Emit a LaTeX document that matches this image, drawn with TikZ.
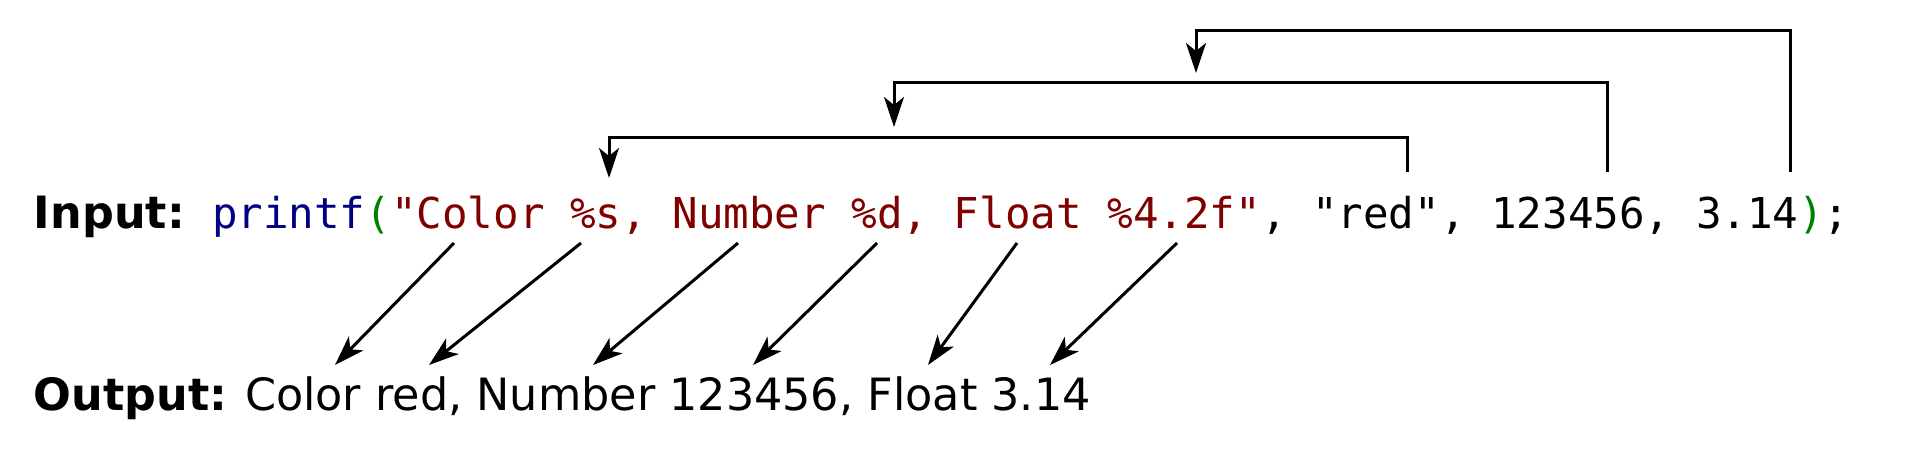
\documentclass[tikz,border=0pt]{standalone}
\usepackage{fontspec}
\setmainfont{DejaVu Sans}
\newfontfamily\codefont{DejaVu Sans Mono}
\usetikzlibrary{arrows.meta}
\definecolor{fnblue}{RGB}{0,0,128}
\definecolor{pgreen}{RGB}{0,128,0}
\definecolor{strred}{RGB}{128,0,0}
\begin{document}
\begin{tikzpicture}[x=1pt,y=-1pt,
  txt/.style={inner sep=0pt, outer sep=0pt, anchor=base west},
  lbl/.style={txt, font=\fontsize{44.5}{50}\selectfont\bfseries},
  codetxt/.style={txt, font=\fontsize{42.5}{50}\selectfont\codefont},
  outtxt/.style={txt, font=\fontsize{44.5}{50}\selectfont},
  conn/.style={line width=3pt, -{Stealth[length=30pt,width=20pt,inset=8pt]}}]
\path[use as bounding box] (0,0) rectangle (1920,457);

\node[lbl] (inlabel) at (34,229) {Input:};
\node[codetxt] (code) at (212,229) {{\color{fnblue}printf}{\color{pgreen}(}{\color{strred}"Color \%s, Number \%d, Float \%4.2f"}, "red", 123456, 3.14{\color{pgreen})};};
\node[lbl] (outlabel) at (34,410) {Output:};
\node[outtxt] (outtext) at (245,410) {Color red, Number 123456, Float 3.14};

% down arrows from specifiers to output
\coordinate (s1) at (454,243); \coordinate (e1) at (335,365);
\coordinate (s2) at (581,243); \coordinate (e2) at (429,365);
\coordinate (s3) at (738,243); \coordinate (e3) at (593,365);
\coordinate (s4) at (877,243); \coordinate (e4) at (753,365);
\coordinate (s5) at (1017,243); \coordinate (e5) at (928,365);
\coordinate (s6) at (1177,243); \coordinate (e6) at (1050,365);
\foreach \i in {1,...,6} \draw[conn] (s\i) -- (e\i);

% brackets from arguments to specifiers
\coordinate (r1) at (1407,172); \coordinate (c1) at (609,137.5); \coordinate (t1) at (609,178);
\coordinate (r2) at (1607,172); \coordinate (c2) at (894,83);    \coordinate (t2) at (894,127);
\coordinate (r3) at (1790,172); \coordinate (c3) at (1196,31);   \coordinate (t3) at (1196,73);
\foreach \i in {1,2,3} \draw[conn] (r\i) |- (c\i) -- (t\i);
\end{tikzpicture}
\end{document}
